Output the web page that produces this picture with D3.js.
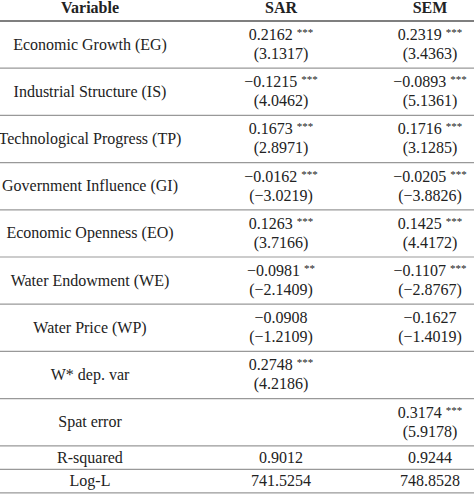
<!DOCTYPE html>
<html><head><meta charset="utf-8">
<script src="https://cdn.jsdelivr.net/npm/d3@7"></script>
<style>body{margin:0;background:#fff}</style>
</head><body><svg id="tbl"></svg>
<script>
var variables = ["Economic Growth (EG)", "Industrial Structure (IS)", "Technological Progress (TP)",
  "Government Influence (GI)", "Economic Openness (EO)", "Water Endowment (WE)", "Water Price (WP)",
  "W* dep. var", "Spat error", "R-squared", "Log-L"];
var sarCoef = ["0.2162", "\u22120.1215", "0.1673", "\u22120.0162", "0.1263", "\u22120.0981", "\u22120.0908", "0.2748", "", "0.9012", "741.5254"];
var sarSig  = ["***", "***", "***", "***", "***", "**", "", "***", "", "", ""];
var sarT    = ["3.1317", "4.0462", "2.8971", "\u22123.0219", "3.7166", "\u22122.1409", "\u22121.2109", "4.2186", "", "", ""];
var semCoef = ["0.2319", "\u22120.0893", "0.1716", "\u22120.0205", "0.1425", "\u22120.1107", "\u22120.1627", "", "0.3174", "0.9244", "748.8528"];
var semSig  = ["***", "***", "***", "***", "***", "***", "", "", "***", "", ""];
var semT    = ["3.4363", "5.1361", "3.1285", "\u22123.8826", "4.4172", "\u22122.8767", "\u22121.4019", "", "5.9178", "", ""];
var headers = ["Variable", "SAR", "SEM"];

var W = 474, H = 495;
var svg = d3.select("#tbl").attr("width", W).attr("height", H)
  .style("font-family", "'Liberation Serif', 'DejaVu Serif', serif").style("font-size", "16px");

var headH = 21, tallH = 47.2, shortH = 23.5;
var tops = [], y = headH;
variables.forEach(function (v, i) {
  tops.push(y);
  y += (sarT[i] || semT[i]) ? tallH : shortH;
});
tops.push(y);

var xs = {Variable: 90, SAR: 281, SEM: 430};

svg.selectAll(".hd").data(headers).enter().append("text")
  .attr("x", function (d) { return xs[d]; }).attr("y", 13)
  .attr("text-anchor", "middle").attr("font-weight", "bold").attr("fill", "#222")
  .text(function (d) { return d; });

svg.append("line").attr("x1", 0).attr("x2", W).attr("y1", headH).attr("y2", headH)
  .attr("stroke", "#555").attr("stroke-width", 1.5);
svg.selectAll(".rl").data(tops.slice(1)).enter().append("line")
  .attr("x1", 0).attr("x2", W).attr("y1", function (d) { return d; }).attr("y2", function (d) { return d; })
  .attr("stroke", "#999").attr("stroke-width", 1.2);

variables.forEach(function (v, i) {
  var top = tops[i], h = tops[i + 1] - top, mid = top + h / 2;
  svg.append("text").attr("x", xs.Variable).attr("y", mid + 5).attr("text-anchor", "middle")
    .attr("fill", "#222").text(v);
  [[xs.SAR, sarCoef, sarSig, sarT], [xs.SEM, semCoef, semSig, semT]].forEach(function (c) {
    if (!c[1][i]) return;
    var two = !!c[3][i];
    var t = svg.append("text").attr("x", c[0]).attr("y", two ? top + 19 : mid + 5)
      .attr("text-anchor", "middle").attr("fill", "#222");
    t.append("tspan").text(c[1][i]);
    if (c[2][i]) t.append("tspan").attr("dx", 4).attr("dy", -4).attr("font-size", "11px").text(c[2][i]);
    if (two) svg.append("text").attr("x", c[0]).attr("y", top + 38).attr("text-anchor", "middle")
      .attr("fill", "#222").text("(" + c[3][i] + ")");
  });
});
</script></body></html>
